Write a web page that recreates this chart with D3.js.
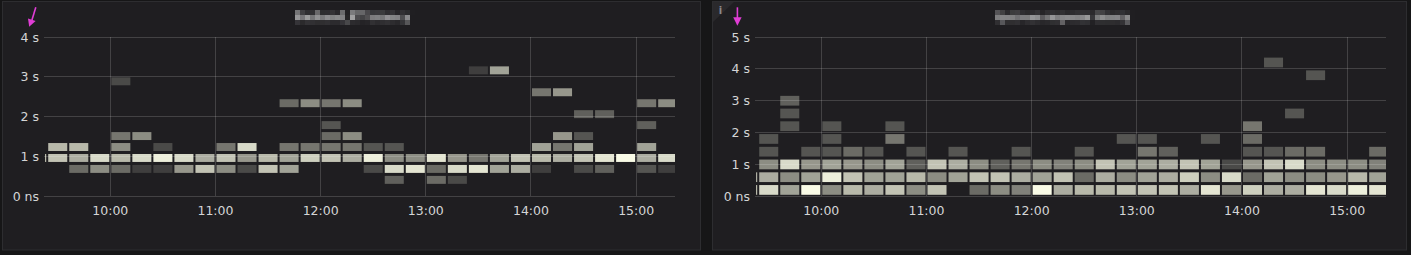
<!DOCTYPE html>
<html><head><meta charset="utf-8">
<script src="https://cdn.jsdelivr.net/npm/d3@7"></script>
<style>
html,body{margin:0;padding:0;background:#161617;}
svg{display:block;}
text{font-family:"DejaVu Sans",Verdana,sans-serif;}
</style></head><body>
<svg id="c" width="1411" height="255"></svg>
<script>
// ---------- data ----------
const bucketStarts = ["09:12","09:24","09:36","09:48","10:00","10:12","10:24","10:36","10:48","11:00","11:12","11:24","11:36","11:48","12:00","12:12","12:24","12:36","12:48","13:00","13:12","13:24","13:36","13:48","14:00","14:12","14:24","14:36","14:48","15:00","15:12"];
const bucketMinutes = 12;
const timeDomain = ["09:22:10", "15:22:10"];
const hourTickLabels = ["10:00","11:00","12:00","13:00","14:00","15:00"];

const leftTitle = "Backend_RT latency";
const leftYTicks = [0, 1, 2, 3, 4];
const leftYMax = 4;
const leftBucketSec = 0.275;
// counts per time bucket, index = latency bucket (from 0 s upward)
const leftCounts = [
  [0,0,0,14],
  [0,0,0,15,14],
  [0,0,7,13,14],
  [0,0,10,17],
  [0,0,7,14,10,8,0,0,0,0,4],
  [0,0,3,17,0,10],
  [0,0,3,19,4],
  [0,0,11,17],
  [0,0,15,13],
  [0,0,10,15,8],
  [0,0,4,11,17],
  [0,0,15,14],
  [0,0,12,12,8,0,0,0,7],
  [0,0,0,16,8,0,0,0,10],
  [0,0,0,15,8,7,5,0,8],
  [0,0,0,13,8,10,0,0,10],
  [0,0,4,19,5],
  [0,6,17,10,5],
  [0,0,18,10],
  [0,7,7,18],
  [0,4,17,11],
  [0,0,18,8,0,0,0,0,0,0,0,3],
  [0,0,12,12,0,0,0,0,0,0,0,12],
  [0,0,13,15],
  [0,0,3,14,12,0,0,0,0,8],
  [0,0,0,13,8,11,0,0,0,11],
  [0,0,4,15,12,5,0,6],
  [0,0,6,18,0,0,0,6],
  [0,0,0,20],
  [0,0,5,13,12,0,6,0,8],
  [0,0,3,17,0,0,0,0,10]
];

const rightTitle = "Upstream response latency";
const rightYTicks = [0, 1, 2, 3, 4, 5];
const rightYMax = 5;
const rightBucketSec = 0.4;
const rightCounts = [
  [14,13],
  [17,13,10,5,5],
  [12,10,17,0,0,5,5,6],
  [20,12,11,5],
  [10,19,12,5,5,5],
  [14,15,11,7],
  [13,12,10,5],
  [15,12,12,0,8,5],
  [10,14,6,5],
  [15,10,15],
  [0,12,13,5],
  [7,15,10],
  [10,15,6],
  [9,13,8,5],
  [20,12,10],
  [13,15,9],
  [14,7,10,5],
  [14,13,15],
  [15,10,12,0,5],
  [15,12,12,8,5],
  [15,13,13,6],
  [13,16,15],
  [18,10,12,0,5],
  [11,17,4],
  [16,7,11,5,7,8],
  [13,12,15,5,0,0,0,0,0,0,5],
  [13,10,17,7,0,0,5],
  [18,10,10,7,0,0,0,0,0,5],
  [17,11,10],
  [19,14,10],
  [18,12,9,7]
];
const maxCount = 20;

// ---------- drawing ----------
const parseHM = d3.timeParse("%H:%M");
const parseHMS = d3.timeParse("%H:%M:%S");
const svg = d3.select("#c");
const defs = svg.append("defs");

function pixFilter(id, w, h) {
  const f = defs.append("filter").attr("id", id)
    .attr("filterUnits", "userSpaceOnUse").attr("primitiveUnits", "userSpaceOnUse")
    .attr("x", 0).attr("y", 0).attr("width", w).attr("height", h);
  f.append("feGaussianBlur").attr("in", "SourceGraphic").attr("stdDeviation", 1.4).attr("result", "b");
  f.append("feFlood").attr("x", 2).attr("y", 2).attr("width", 1).attr("height", 1).attr("flood-color", "#000").attr("result", "fl");
  f.append("feComposite").attr("in", "fl").attr("in2", "fl").attr("x", 0).attr("y", 0).attr("width", 5).attr("height", 5).attr("result", "cc");
  f.append("feTile").attr("in", "cc").attr("x", 0).attr("y", 0).attr("width", w).attr("height", h).attr("result", "a");
  f.append("feComposite").attr("in", "b").attr("in2", "a").attr("operator", "in").attr("x", 0).attr("y", 0).attr("width", w).attr("height", h).attr("result", "m");
  f.append("feMorphology").attr("in", "m").attr("operator", "dilate").attr("radius", 2).attr("x", 0).attr("y", 0).attr("width", w).attr("height", h);
}

function drawPanel(cfg) {
  const g = svg.append("g");
  g.append("rect").attr("x", cfg.panel[0]).attr("y", cfg.panel[1])
    .attr("width", cfg.panel[2]).attr("height", cfg.panel[3])
    .attr("fill", "#1f1e21").attr("stroke", "#2d2d30").attr("stroke-width", 1);

  const x = d3.scaleTime().domain(timeDomain.map(parseHMS)).range([cfg.x0, cfg.x1]);
  const y = d3.scaleLinear().domain([0, cfg.yMax]).range([196.3, 37]);
  const op = d3.scaleLinear().domain([0, maxCount]).range([0, 1]);

  const clipId = cfg.id + "clip";
  defs.append("clipPath").attr("id", clipId).append("rect")
    .attr("x", cfg.x0 + 1).attr("y", 30).attr("width", cfg.x1 - cfg.x0 - 1).attr("height", 170);

  const cells = [];
  cfg.counts.forEach((col, ci) => col.forEach((n, j) => {
    if (n > 0) cells.push({ t: parseHM(bucketStarts[ci]), j, n });
  }));
  const bs = cfg.bucket;
  g.append("g").attr("clip-path", `url(#${clipId})`)
    .selectAll("rect").data(cells).join("rect")
    .attr("x", d => x(d.t) + 1)
    .attr("width", d => x(d3.timeMinute.offset(d.t, bucketMinutes)) - x(d.t) - 2)
    .attr("y", d => y((d.j + 1) * bs) + 1.5)
    .attr("height", d => y(d.j * bs) - y((d.j + 1) * bs) - 3)
    .attr("fill", "#f9fbe6")
    .attr("fill-opacity", d => op(d.n));

  // grid
  const grid = g.append("g").attr("stroke", "#ffffff").attr("stroke-opacity", 0.16)
    .attr("shape-rendering", "crispEdges");
  grid.selectAll("line.h").data(cfg.ticks).join("line").attr("class", "h")
    .attr("x1", cfg.x0).attr("x2", cfg.x1)
    .attr("y1", d => y(d)).attr("y2", d => y(d));
  const hours = hourTickLabels.map(parseHM);
  grid.selectAll("line.v").data(hours).join("line").attr("class", "v")
    .attr("x1", d => x(d)).attr("x2", d => x(d))
    .attr("y1", y(cfg.yMax)).attr("y2", y(0));

  // labels
  const fmtY = v => v === 0 ? "0 ns" : v + " s";
  g.append("g").selectAll("text").data(cfg.ticks).join("text")
    .attr("x", cfg.x0 - 5).attr("y", d => y(d)).attr("dy", "0.37em")
    .attr("text-anchor", "end").attr("font-size", 12.5).attr("fill", "#d4d5d6")
    .text(fmtY);
  const fmtX = d3.timeFormat("%H:%M");
  g.append("g").selectAll("text").data(hours).join("text")
    .attr("x", d => x(d)).attr("y", 215)
    .attr("text-anchor", "middle").attr("font-size", 12.5).attr("fill", "#d4d5d6")
    .text(fmtX);

  // blurred title
  pixFilter(cfg.id + "pix", cfg.titleW + 10, 20);
  const tg = g.append("g").attr("transform", `translate(${cfg.titleX},10)`)
    .attr("filter", `url(#${cfg.id}pix)`);
  tg.append("text").attr("x", 0).attr("y", 11).attr("font-size", 12).attr("font-weight", "bold")
    .attr("fill", "#d8d9da").attr("textLength", cfg.titleW).attr("lengthAdjust", "spacingAndGlyphs")
    .text(cfg.title);
  return g;
}

drawPanel({ id: "l", panel: [2.5, 1.5, 698, 248.5], x0: 44, x1: 675, yMax: leftYMax,
  bucket: leftBucketSec, ticks: leftYTicks, counts: leftCounts, title: leftTitle, titleX: 295, titleW: 115 });
const rg = drawPanel({ id: "r", panel: [712.5, 1.5, 694, 248.5], x0: 755, x1: 1386, yMax: rightYMax,
  bucket: rightBucketSec, ticks: rightYTicks, counts: rightCounts, title: rightTitle, titleX: 995, titleW: 135 });

// info corner on right panel
rg.append("path").attr("d", "M713,2 L734,2 L713,22 Z").attr("fill", "#2a292c");
rg.append("text").attr("x", 720.5).attr("y", 14).attr("text-anchor", "middle")
  .attr("font-family", "DejaVu Serif").attr("font-size", 10).attr("font-weight", "bold")
  .attr("fill", "#8a8a8c").text("i");

// annotation arrows
const pink = "#e03dd5";
svg.append("line").attr("x1", 35.8).attr("y1", 7.3).attr("x2", 31.8).attr("y2", 20.5)
  .attr("stroke", pink).attr("stroke-width", 1.6);
svg.append("path").attr("d", "M28,18.6 L35.6,21 L29.2,26.8 Z").attr("fill", pink);
svg.append("line").attr("x1", 737.4).attr("y1", 7.3).attr("x2", 737.4).attr("y2", 18)
  .attr("stroke", pink).attr("stroke-width", 1.6);
svg.append("path").attr("d", "M733.2,17.2 L741.6,17.2 L737.4,25.8 Z").attr("fill", pink);
</script>
</body></html>
